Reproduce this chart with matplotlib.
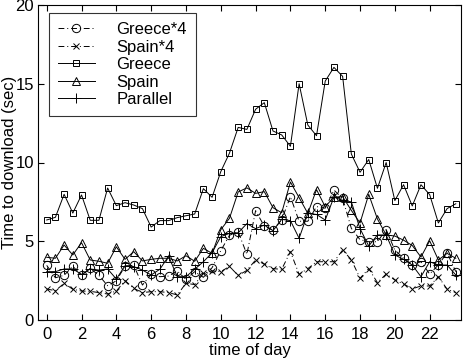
import numpy as np
import matplotlib
matplotlib.use("Agg")
import matplotlib.pyplot as plt

hours = np.arange(0, 24, 0.5)

greece4 = [3.47, 2.68, 2.84, 3.41, 2.83, 3.28, 2.83, 2.18, 2.49, 3.42, 3.47, 2.22,
           2.90, 2.75, 2.79, 3.11, 2.58, 3.07, 2.71, 3.32, 4.40, 5.38, 5.60, 4.17,
           6.94, 5.96, 5.71, 6.37, 7.83, 6.27, 6.27, 7.20, 7.10, 8.25, 7.72, 5.82,
           5.10, 4.97, 4.97, 5.74, 4.44, 3.92, 3.52, 3.70, 2.92, 3.50, 4.27, 3.07]
spain4 = [1.97, 1.86, 2.33, 1.95, 1.84, 1.82, 1.74, 1.65, 1.84, 2.50, 2.01, 1.74,
          1.80, 1.80, 1.74, 1.59, 2.33, 2.25, 2.96, 3.12, 3.07, 3.40, 2.83, 3.15,
          3.81, 3.55, 3.26, 3.22, 4.34, 2.90, 3.26, 3.70, 3.70, 3.70, 4.44, 3.83,
          2.65, 3.26, 2.37, 2.92, 2.54, 2.29, 1.98, 2.16, 2.16, 2.75, 1.96, 1.74]
greece = [6.35, 6.52, 7.98, 6.79, 7.94, 6.33, 6.33, 8.38, 7.26, 7.45, 7.30, 7.07,
          5.90, 6.31, 6.31, 6.50, 6.62, 6.73, 8.34, 7.79, 9.42, 10.60, 12.23, 12.10,
          13.38, 13.80, 12.00, 11.75, 11.03, 15.00, 12.38, 11.70, 15.17, 16.04, 15.47, 10.54,
          9.38, 10.19, 8.36, 10.00, 7.58, 8.59, 7.24, 8.59, 7.96, 6.16, 7.07, 7.38]
spain = [3.98, 3.92, 4.76, 4.13, 4.91, 3.81, 3.73, 3.60, 4.65, 3.85, 4.34, 3.75,
         3.85, 3.92, 3.92, 3.75, 4.08, 3.73, 4.55, 4.23, 5.73, 6.46, 8.13, 8.39,
         8.04, 8.15, 7.13, 6.81, 8.76, 7.77, 6.77, 8.28, 7.19, 7.81, 7.83, 6.96,
         6.16, 7.98, 6.41, 5.40, 5.33, 5.07, 4.73, 4.00, 5.03, 3.81, 4.23, 3.92]
parallel = [3.07, 3.07, 3.24, 3.24, 2.90, 3.24, 3.17, 3.24, 2.60, 3.45, 3.39, 3.17,
            2.86, 3.22, 4.05, 2.75, 2.75, 3.22, 3.70, 4.27, 5.29, 5.50, 5.54, 6.12,
            5.80, 6.03, 5.67, 6.39, 6.31, 5.19, 6.77, 6.70, 6.35, 7.80, 7.60, 7.50,
            5.80, 4.70, 5.40, 5.40, 4.13, 3.85, 3.49, 2.75, 3.70, 3.49, 3.49, 2.86]

labels = ["Greece*4", "Spain*4", "Greece", "Spain", "Parallel"]
xticks = list(range(0, 24, 2))
yticks = [0, 5, 10, 15, 20]

plt.rcParams['font.family'] = ['Liberation Sans', 'DejaVu Sans']
fig = plt.figure(figsize=(4.74, 3.59), dpi=100)
ax = fig.add_axes([38/474, 1-320/359, 423/474, 315/359])

lw = 0.7
common = dict(color='black', linewidth=lw, markerfacecolor='none',
              markeredgecolor='black', markeredgewidth=0.7)
ax.plot(hours, greece4, linestyle=(0, (6, 3, 1, 3)), marker='o', markersize=6,
        label=labels[0], **common)
ax.plot(hours, spain4, linestyle=(0, (6, 3, 1, 3)), marker='x', markersize=4.5,
        label=labels[1], **common)
ax.plot(hours, greece, linestyle='-', marker='s', markersize=4.5,
        label=labels[2], **common)
ax.plot(hours, spain, linestyle='-', marker='^', markersize=6,
        label=labels[3], **common)
ax.plot(hours, parallel, linestyle='-', marker='+', markersize=7,
        label=labels[4], **common)

ax.set_xlim(-0.5, 23.8)
ax.set_ylim(0, 20)
ax.set_xticks(xticks)
ax.set_yticks(yticks)
ax.tick_params(direction='in', top=True, right=True, labelsize=12, length=4,
               width=0.8, pad=3)
ax.tick_params(axis='x', pad=5)
for s in ax.spines.values():
    s.set_linewidth(0.8)
ax.set_xlabel("time of day", fontsize=12, labelpad=1)
ax.set_ylabel("Time to download (sec)", fontsize=12)
ax.yaxis.set_label_coords(-21/423, 0.5)

leg = ax.legend(loc='upper left', bbox_to_anchor=(0.026, 0.975), fontsize=12,
                frameon=True, fancybox=False, edgecolor='black',
                handlelength=2.2, handletextpad=1.3, labelspacing=0.15,
                borderpad=0.55, borderaxespad=0)
leg.get_frame().set_linewidth(0.8)

fig.savefig("out.png", dpi=100)
